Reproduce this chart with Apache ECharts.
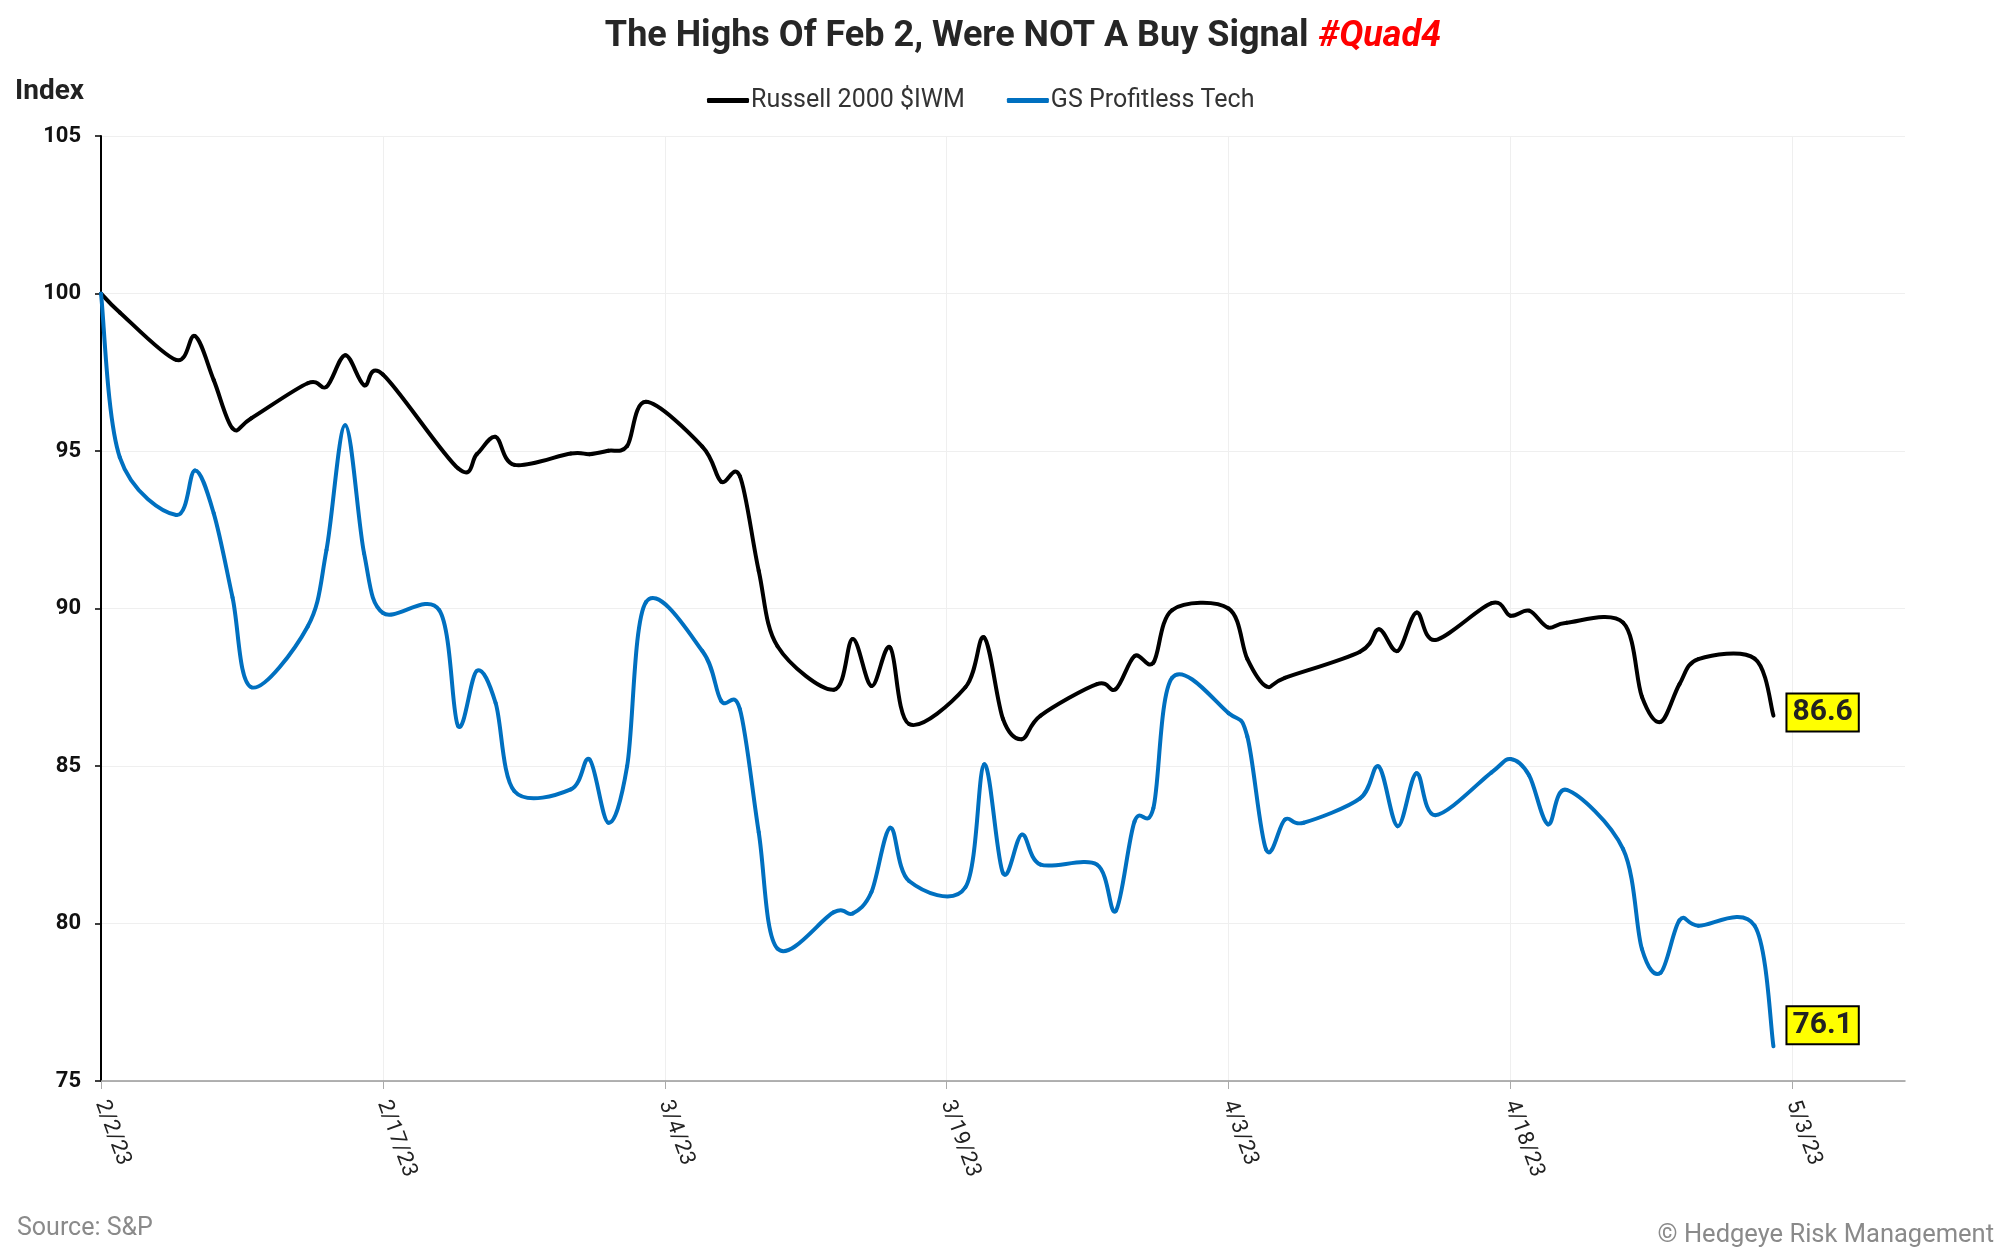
<!DOCTYPE html>
<html>
<head>
<meta charset="utf-8">
<script src="https://cdn.jsdelivr.net/npm/echarts@6/dist/echarts.min.js"></script>
<style>
html,body{margin:0;padding:0;background:#fff;}
#chart{width:2009px;height:1257px;}
</style>
</head>
<body>
<div id="chart"></div>
<script>
// ---- data ----
const russellDates = [
 '2023-02-02','2023-02-03','2023-02-06','2023-02-07','2023-02-08','2023-02-09','2023-02-10',
 '2023-02-13','2023-02-14','2023-02-15','2023-02-16','2023-02-17',
 '2023-02-21','2023-02-22','2023-02-23','2023-02-24','2023-02-27','2023-02-28',
 '2023-03-01','2023-03-02','2023-03-03','2023-03-06','2023-03-07','2023-03-08','2023-03-09','2023-03-10',
 '2023-03-13','2023-03-14','2023-03-15','2023-03-16','2023-03-17',
 '2023-03-20','2023-03-21','2023-03-22','2023-03-23','2023-03-24',
 '2023-03-27','2023-03-28','2023-03-29','2023-03-30','2023-03-31',
 '2023-04-03','2023-04-04','2023-04-05','2023-04-06',
 '2023-04-10','2023-04-11','2023-04-12','2023-04-13','2023-04-14',
 '2023-04-17','2023-04-18','2023-04-19','2023-04-20','2023-04-21',
 '2023-04-24','2023-04-25','2023-04-26','2023-04-27','2023-04-28',
 '2023-05-01','2023-05-02'
];
const russell = [
 100, 99.4, 97.89, 98.65, 97.25, 95.72, 96.04,
 97.15, 97.04, 98.04, 97.09, 97.43,
 94.45, 94.9, 95.45, 94.56, 94.92, 94.9,
 95.01, 95.16, 96.56, 95.14, 94.03, 94.2, 91.2, 88.8,
 87.42, 89.03, 87.54, 88.76, 86.33,
 87.5, 89.08, 86.49, 85.85, 86.6,
 87.6, 87.44, 88.49, 88.28, 89.95,
 90.0, 88.4, 87.53, 87.8,
 88.63, 89.34, 88.65, 89.87, 89.0,
 90.17, 89.77, 89.93, 89.4, 89.55,
 89.55, 87.2, 86.4, 87.6, 88.39,
 88.41, 86.6
];
const profitlessDates = [
 '2023-02-02','2023-02-03','2023-02-06','2023-02-07','2023-02-08','2023-02-09','2023-02-10',
 '2023-02-13','2023-02-14','2023-02-15','2023-02-16','2023-02-17','2023-02-20',
 '2023-02-21','2023-02-22','2023-02-23','2023-02-24','2023-02-27','2023-02-28',
 '2023-03-01','2023-03-02','2023-03-03','2023-03-06','2023-03-07','2023-03-08','2023-03-09','2023-03-10',
 '2023-03-13','2023-03-14','2023-03-15','2023-03-16','2023-03-17',
 '2023-03-20','2023-03-21','2023-03-22','2023-03-23','2023-03-24',
 '2023-03-27','2023-03-28','2023-03-29','2023-03-30','2023-03-31',
 '2023-04-03','2023-04-04','2023-04-05','2023-04-06','2023-04-07',
 '2023-04-10','2023-04-11','2023-04-12','2023-04-13','2023-04-14',
 '2023-04-17','2023-04-18','2023-04-19','2023-04-20','2023-04-21',
 '2023-04-24','2023-04-25','2023-04-26','2023-04-27','2023-04-28',
 '2023-05-01','2023-05-02'
];
const profitless = [
 100, 94.8, 92.97, 94.38, 93.02, 90.35, 87.5,
 89.43, 91.86, 95.82, 91.75, 89.86, 89.95,
 86.27, 88.02, 87.0, 84.2, 84.26, 85.21,
 83.2, 85.0, 90.2, 88.65, 87.07, 86.8, 82.9, 79.2,
 80.36, 80.32, 81.0, 83.04, 81.35,
 81.15, 85.05, 81.6, 82.82, 81.87,
 81.87, 80.4, 83.24, 83.66, 87.8,
 86.68, 85.94, 82.35, 83.3, 83.2,
 83.97, 84.98, 83.09, 84.77, 83.44,
 84.8, 85.22, 84.7, 83.15, 84.24,
 82.36, 79.19, 78.44, 80.1, 79.93,
 79.93, 76.1
];
const seriesNames = ['Russell 2000 $IWM', 'GS Profitless Tech'];
const startDate = '2023-02-02';
const xTickDays = [0, 15, 30, 45, 60, 75, 90];
const yTicks = [75, 80, 85, 90, 95, 100, 105];

// ---- build ----
const DAY = 86400000;
const t0 = Date.parse(startDate);
const toDay = d => (Date.parse(d) - t0) / DAY;
const fmtDate = v => {
  const dt = new Date(t0 + v * DAY);
  return (dt.getUTCMonth() + 1) + '/' + dt.getUTCDate() + '/' + String(dt.getUTCFullYear()).slice(2);
};
const FONT = 'Roboto';

// smoothed line (Excel-like spline) drawn segment by segment through the axis scales
function makeRender(xs, ys, color, labelDy) {
  const n = xs.length;
  return function (params, api) {
    const i = params.dataIndex;
    const P = k => {
      const j = Math.max(0, Math.min(n - 1, k));
      return api.coord([xs[j], ys[j]]);
    };
    const children = [];
    if (i < n - 1) {
      const p0 = P(i - 1), p1 = P(i), p2 = P(i + 1), p3 = P(i + 2);
      children.push({
        type: 'bezierCurve',
        shape: {
          x1: p1[0], y1: p1[1], x2: p2[0], y2: p2[1],
          cpx1: p1[0] + (p2[0] - p0[0]) / 6, cpy1: p1[1] + (p2[1] - p0[1]) / 6,
          cpx2: p2[0] - (p3[0] - p1[0]) / 6, cpy2: p2[1] - (p3[1] - p1[1]) / 6
        },
        style: {stroke: color, lineWidth: 4, fill: 'none', lineCap: 'round', lineJoin: 'round'}
      });
    } else {
      const p = P(i);
      children.push({
        type: 'text',
        x: p[0] + 14,
        y: p[1] + labelDy,
        style: {
          text: ys[i].toFixed(1),
          fontFamily: FONT, fontWeight: 'bold', fontSize: 30, lineHeight: 32,
          fill: '#222',
          backgroundColor: '#FFFF00',
          borderColor: '#000',
          borderWidth: 2,
          padding: [3, 5, 1, 5],
          align: 'left',
          verticalAlign: 'middle'
        },
        z2: 10
      });
    }
    return {type: 'group', children};
  };
}

const rx = russellDates.map(toDay);
const px = profitlessDates.map(toDay);

const chart = echarts.init(document.getElementById('chart'), null, {renderer: 'canvas'});

chart.setOption({
  animation: false,
  backgroundColor: '#fff',
  title: {
    text: '{a|The Highs Of Feb 2, Were NOT A Buy Signal}  {b|#Quad4}',
    left: 1018,
    textAlign: 'center',
    top: 14,
    textStyle: {
      rich: {
        a: {fontFamily: FONT, fontWeight: 'bold', fontSize: 36, color: '#262626'},
        b: {fontFamily: FONT, fontWeight: 'bold', fontStyle: 'italic', fontSize: 36, color: '#FF0000'}
      }
    }
  },
  legend: {
    left: 702,
    top: 83,
    icon: 'roundRect',
    itemWidth: 42,
    itemHeight: 5,
    itemGap: 42,
    textStyle: {fontFamily: FONT, fontSize: 25, color: '#333', padding: [0, 0, 0, -3]},
    data: seriesNames
  },
  grid: {left: 101, right: 104, top: 136, bottom: 176, containLabel: false},
  xAxis: {
    type: 'value',
    min: 0,
    max: 96,
    interval: 15,
    axisLine: {show: true, lineStyle: {color: '#999', width: 1.5}},
    axisTick: {show: true, length: 8, customValues: xTickDays, lineStyle: {color: '#aaa', width: 1}},
    axisLabel: {
      rotate: -70,
      margin: 20,
      fontFamily: FONT,
      fontSize: 22,
      color: '#222',
      customValues: xTickDays,
      formatter: v => fmtDate(v)
    },
    splitLine: {show: true, lineStyle: {color: '#efefef', width: 1}}
  },
  yAxis: {
    type: 'value',
    min: yTicks[0],
    max: yTicks[yTicks.length - 1],
    interval: 5,
    axisLine: {show: true, lineStyle: {color: '#000', width: 2}},
    axisTick: {show: true, length: 6, lineStyle: {color: '#000', width: 1.5}},
    axisLabel: {fontFamily: FONT, fontSize: 22, fontWeight: 'bold', color: '#111', margin: 20},
    splitLine: {show: true, lineStyle: {color: '#efefef', width: 1}}
  },
  graphic: [
    {type: 'text', left: 15, top: 78, style: {text: 'Index', fontFamily: FONT, fontSize: 28, fontWeight: 'bold', fill: '#222'}},
    {type: 'text', left: 17, top: 1216, style: {text: 'Source: S&P', fontFamily: FONT, fontSize: 25, fill: '#8a8a8a'}},
    {type: 'text', right: 15, top: 1223, style: {text: '\u00A9 Hedgeye Risk Management', fontFamily: FONT, fontSize: 25.5, fill: '#8a8a8a'}}
  ],
  series: [
    {
      name: seriesNames[0],
      type: 'custom',
      data: rx.map((d, i) => [d, russell[i]]),
      encode: {x: 0, y: 1},
      clip: false,
      itemStyle: {color: '#000'},
      renderItem: makeRender(rx, russell, '#000', -3),
      z: 2
    },
    {
      name: seriesNames[1],
      type: 'custom',
      data: px.map((d, i) => [d, profitless[i]]),
      encode: {x: 0, y: 1},
      clip: false,
      itemStyle: {color: '#0070C0'},
      renderItem: makeRender(px, profitless, '#0070C0', -21),
      z: 3
    }
  ]
});
</script>
</body>
</html>
